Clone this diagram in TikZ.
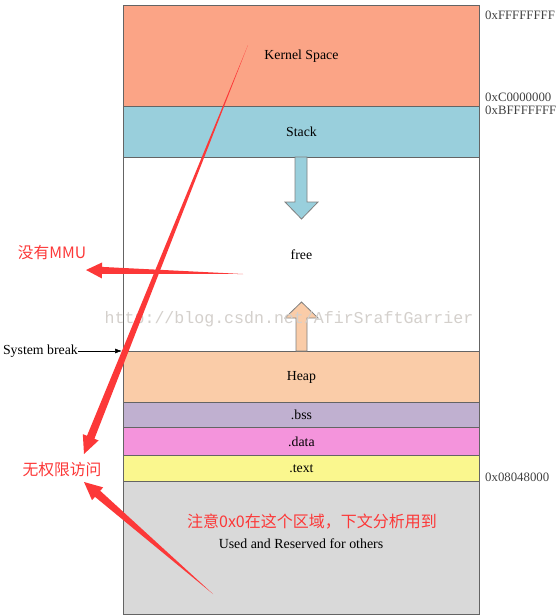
\documentclass[tikz,border=0pt]{standalone}
\usepackage{fontspec}
\setmainfont{Liberation Serif}
\newfontfamily\cjk{Noto Sans CJK SC}
\newfontfamily\wmfont{Liberation Mono}
\usetikzlibrary{calc,arrows.meta}
\definecolor{kernelc}{RGB}{251,164,134}
\definecolor{stackc}{RGB}{153,207,220}
\definecolor{heapc}{RGB}{250,204,168}
\definecolor{bssc}{RGB}{192,176,208}
\definecolor{datac}{RGB}{244,148,220}
\definecolor{textc}{RGB}{250,247,142}
\definecolor{resc}{RGB}{217,217,217}
\definecolor{redc}{RGB}{252,56,56}
\definecolor{bordc}{RGB}{100,100,100}
\definecolor{wmc}{RGB}{212,208,204}
\newcommand\tapArrow[5]{%
  \coordinate (tA-b) at ($(#2)!#3!(#1)$);
  \fill[redc] (#1) -- ($(tA-b)!#5!90:(#2)$) -- ($(tA-b)!#4!90:(#2)$) -- (#2)
     -- ($(tA-b)!#4!-90:(#2)$) -- ($(tA-b)!#5!-90:(#2)$) -- cycle;}
\begin{document}
\begin{tikzpicture}[x=1pt,y=-1pt,
  seg/.style={draw=bordc,line width=0.9pt,anchor=north west,minimum width=356pt,inner sep=0pt,font=\fontsize{13.8}{15}\selectfont},
  addr/.style={anchor=west,inner sep=0pt,font=\fontsize{12.8}{15}\selectfont,text=black!75},
  note/.style={inner sep=0pt,text=redc,font=\cjk\fontsize{15.7}{17}\selectfont},
  arrowshape/.style={draw=gray,line width=0.8pt}]
\useasboundingbox (0,0) rectangle (559,616);
% segments
\node[seg,fill=resc,minimum height=133pt] (res) at (123,481) {};
\node[seg,fill=white,minimum height=194pt] (free) at (123,157) {free};
\node[seg,fill=kernelc,minimum height=101pt] (kernel) at (123,5) {Kernel Space};
\node[seg,fill=stackc,minimum height=51pt] (stack) at (123,106) {Stack};
\node[seg,fill=heapc,minimum height=51pt] (heap) at (123,351) {Heap};
\node[seg,fill=bssc,minimum height=25pt] (bss) at (123,402) {.bss};
\node[seg,fill=datac,minimum height=28pt] (data) at (123,427) {.data};
\node[seg,fill=textc,minimum height=26pt] (txt) at (123,455) {.text};
\node[inner sep=0pt,font=\fontsize{13.9}{15}\selectfont] (used) at (301,544) {Used and Reserved for others};
% stack / heap arrows
\draw[arrowshape,fill=stackc] (295,157) -- (307,157) -- (307,202) -- (318,202) -- (301.5,219) -- (285,202) -- (295,202) -- cycle;
\draw[arrowshape,fill=heapc] (296,351) -- (307,351) -- (307,318) -- (318,318) -- (301.5,302) -- (285,318) -- (296,318) -- cycle;
% watermark
\node[inner sep=0pt,text=wmc,font=\wmfont\fontsize{16.6}{18}\selectfont] (wm) at (289,319) {http://blog.csdn.net/AfirSraftGarrier};
% addresses
\node[addr] (a1) at (485,15) {0xFFFFFFFF};
\node[addr] (a2) at (485,97) {0xC0000000};
\node[addr] (a3) at (485,110) {0xBFFFFFFF};
\node[addr] (a4) at (485,477) {0x08048000};
% system break
\node[anchor=east,inner sep=0pt,font=\fontsize{13.8}{15}\selectfont] (sb) at (78,351) {System break};
\coordinate (sbtip) at (122,351);
\draw[-{Latex[length=7pt,width=5pt]},line width=0.6pt] (sb) -- (sbtip);
% red notes
\node[note] (mmu) at (52,253) {没有MMU};
\node[note,font=\cjk\fontsize{15.8}{17}\selectfont] (perm) at (62,470) {无权限访问};
\node[note,font=\cjk\fontsize{16}{17}\selectfont] (zero) at (312,522) {注意0x0在这个区域，下文分析用到};
% red arrows
\coordinate (t1) at (243,274);
\coordinate (h1) at (86,270);
\tapArrow{t1}{h1}{16pt}{8pt}{3.5pt}
\coordinate (t2) at (248,45);
\coordinate (h2) at (84,454);
\tapArrow{t2}{h2}{18pt}{8.5pt}{4pt}
\coordinate (t3) at (213,594);
\coordinate (h3) at (84,482);
\tapArrow{t3}{h3}{18pt}{8.5pt}{4pt}
\end{tikzpicture}
\end{document}
